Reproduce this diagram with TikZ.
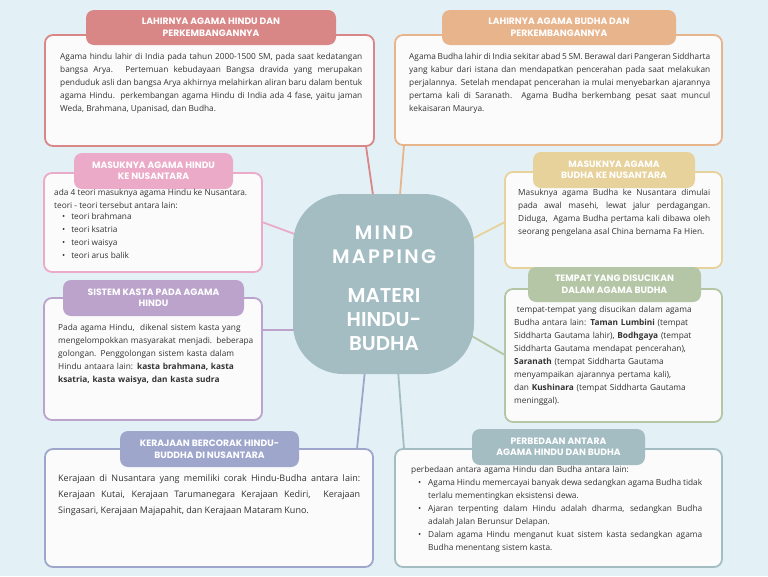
\documentclass[tikz,border=0pt]{standalone}
\usepackage{fontspec}
\setmainfont{Open Sans}
\newfontfamily\headfont{Poppins}[UprightFont=* SemiBold,BoldFont=* Bold]
\definecolor{bg}{HTML}{E3F1F7}
\definecolor{cred}{HTML}{D98686}
\definecolor{corange}{HTML}{E8B48C}
\definecolor{cpink}{HTML}{EBAAC8}
\definecolor{cyellow}{HTML}{E8D29B}
\definecolor{cpurple}{HTML}{BBA3CC}
\definecolor{cgreen}{HTML}{B5C6A6}
\definecolor{cblue}{HTML}{9FA6CC}
\definecolor{cteal}{HTML}{A4BDC3}
\definecolor{ctext}{HTML}{333333}
\hyphenpenalty=10000 \exhyphenpenalty=10000
\begin{document}
\begin{tikzpicture}[x=1pt,y=-1pt,
 box/.style={draw=#1,line width=1.8pt,fill=white!97!gray,rounded corners=8pt},
 hdr/.style={fill=#1,rounded corners=8pt,text=white,font=\headfont\bfseries\fontsize{9.2}{11.5}\selectfont,align=center,inner sep=0pt},
 body/.style={anchor=north west,inner sep=0pt,text=ctext,font=\fontsize{8.3}{13}\selectfont,align=justify},
 conn/.style={draw=#1,line width=1.8pt}]
\fill[bg] (0,0) rectangle (768,576);
\useasboundingbox (0,0) rectangle (768,576);
% connectors
\draw[conn=cred] (373,195) -- (366,146);
\draw[conn=corange] (400,195) -- (404,145);
\draw[conn=cpink] (300,236) -- (262,222);
\draw[conn=cyellow] (470,240) -- (505,222);
\draw[conn=cpurple] (296,330) -- (262,330);
\draw[conn=cgreen] (470,335) -- (505,355);
\draw[conn=cblue] (365,370) -- (357,449);
\draw[conn=cteal] (398,370) -- (404,449);
% center
\node[fill=cteal,rounded corners=50pt,minimum width=181pt,minimum height=180pt,inner sep=0pt] (ctr) at (383.5,284) {};
\node[text=white,font=\headfont\fontsize{19.5}{24}\selectfont,align=center] (t1) at (384,245) {\addfontfeature{LetterSpace=12}MIND\\\addfontfeature{LetterSpace=12}MAPPING};
\node[text=white,font=\headfont\fontsize{20}{24}\selectfont,align=center] (t2) at (384,320) {MATERI\\HINDU-\\BUDHA};
% box 1
\draw[box=cred] (45,35) rectangle (374,146);
\node[hdr=cred,minimum width=250pt,minimum height=35pt] (h1) at (211,27.5) {LAHIRNYA AGAMA HINDU DAN\\PERKEMBANGANNYA};
\node[body,text width=302pt] (b1) at (60,53) {Agama hindu lahir di India pada tahun 2000-1500 SM, pada saat kedatangan bangsa Arya. Pertemuan kebudayaan Bangsa dravida yang merupakan penduduk asli dan bangsa Arya akhirnya melahirkan aliran baru dalam bentuk agama Hindu. perkembangan agama Hindu di India ada 4 fase, yaitu jaman Weda, Brahmana, Upanisad, dan Budha.};
% box 2
\draw[box=corange] (395,35) rectangle (722,145);
\node[hdr=corange,minimum width=234pt,minimum height=35pt] (h2) at (559,27.5) {LAHIRNYA AGAMA BUDHA DAN\\PERKEMBANGANNYA};
\node[body,text width=301pt] (b2) at (409,53) {Agama Budha lahir di India sekitar abad 5 SM. Berawal dari Pangeran Siddharta yang kabur dari istana dan mendapatkan pencerahan pada saat melakukan perjalannya. Setelah mendapat pencerahan ia mulai menyebarkan ajarannya pertama kali di Saranath. Agama Budha berkembang pesat saat muncul kekaisaran Maurya.};
% box 3
\draw[box=cpink] (44,173) rectangle (262,272);
\node[hdr=cpink,minimum width=159pt,minimum height=36pt] (h3) at (153.5,171) {MASUKNYA AGAMA HINDU\\KE NUSANTARA};
\node[body,text width=198pt] (b3) at (54,189) {ada 4 teori masuknya agama Hindu ke Nusantara. teori - teori tersebut antara lain:\\[-1pt]
\raggedright\fontsize{8.3}{12.7}\selectfont
\hspace*{8pt}\textbullet\hspace{6pt}teori brahmana\\
\hspace*{8pt}\textbullet\hspace{6pt}teori ksatria\\
\hspace*{8pt}\textbullet\hspace{6pt}teori waisya\\
\hspace*{8pt}\textbullet\hspace{6pt}teori arus balik};
% box 4
\draw[box=cyellow] (505,172) rectangle (722,268);
\node[hdr=cyellow,minimum width=162pt,minimum height=36pt] (h4) at (614,170) {MASUKNYA AGAMA\\BUDHA KE NUSANTARA};
\node[body,text width=192pt] (b4) at (518,189) {Masuknya agama Budha ke Nusantara dimulai pada awal masehi, lewat jalur perdagangan. Diduga, \ Agama Budha pertama kali dibawa oleh seorang pengelana asal China bernama Fa Hien.};
% box 5
\draw[box=cpurple] (44,298) rectangle (262,420);
\node[hdr=cpurple,minimum width=181pt,minimum height=36pt] (h5) at (153.5,298) {SISTEM KASTA PADA AGAMA\\HINDU};
\node[body,text width=196pt,align=left] (b5) at (58,324) {Pada agama Hindu, \ dikenal sistem kasta yang mengelompokkan masyarakat menjadi. beberapa golongan. Penggolongan sistem kasta dalam Hindu antaara lain: \textbf{kasta brahmana, kasta ksatria, kasta waisya, dan kasta sudra}};
% box 6
\draw[box=cgreen] (505,289) rectangle (722,422);
\node[hdr=cgreen,minimum width=173pt,minimum height=35pt] (h6) at (614.5,284.5) {TEMPAT YANG DISUCIKAN\\DALAM AGAMA BUDHA};
\node[body,text width=200pt,align=left] (b6) at (514,306) {\ tempat-tempat yang disucikan dalam agama Budha antara lain: \textbf{Taman Lumbini} (tempat Siddharta Gautama lahir), \textbf{Bodhgaya} (tempat Siddharta Gautama mendapat pencerahan), \textbf{Saranath} (tempat Siddharta Gautama menyampaikan ajarannya pertama kali), dan \textbf{Kushinara} (tempat Siddharta Gautama meninggal).};
% box 7
\draw[box=cblue] (45,449) rectangle (373,567);
\node[hdr=cblue,minimum width=179pt,minimum height=36pt] (h7) at (209.5,449) {KERAJAAN BERCORAK HINDU-\\BUDDHA DI NUSANTARA};
\node[body,text width=302pt,font=\fontsize{9}{16}\selectfont] (b7) at (58,474) {Kerajaan di Nusantara yang memiliki corak Hindu-Budha antara lain: Kerajaan Kutai, Kerajaan Tarumanegara Kerajaan Kediri, \ Kerajaan Singasari, Kerajaan Majapahit, dan Kerajaan Mataram Kuno.};
% box 8
\draw[box=cteal] (395,449) rectangle (722,567);
\node[hdr=cteal,minimum width=173pt,minimum height=36pt] (h8) at (558.5,447) {PERBEDAAN ANTARA\\AGAMA HINDU DAN BUDHA};
\node[body,text width=300pt,align=left] (b8) at (411,466) {perbedaan antara agama Hindu dan Budha antara lain:};
\node[body,text width=288pt,anchor=north west] (b8l) at (414,479) {%
\hangindent=14pt\hangafter=0\makebox[0pt][r]{\textbullet\hspace{7pt}}Agama Hindu memercayai banyak dewa sedangkan agama Budha tidak terlalu mementingkan eksistensi dewa.\par
\hangindent=14pt\hangafter=0\makebox[0pt][r]{\textbullet\hspace{7pt}}Ajaran terpenting dalam Hindu adalah dharma, sedangkan Budha adalah Jalan Berunsur Delapan.\par
\hangindent=14pt\hangafter=0\makebox[0pt][r]{\textbullet\hspace{7pt}}Dalam agama Hindu menganut kuat sistem kasta sedangkan agama Budha menentang sistem kasta.\par};
\end{tikzpicture}
\end{document}
